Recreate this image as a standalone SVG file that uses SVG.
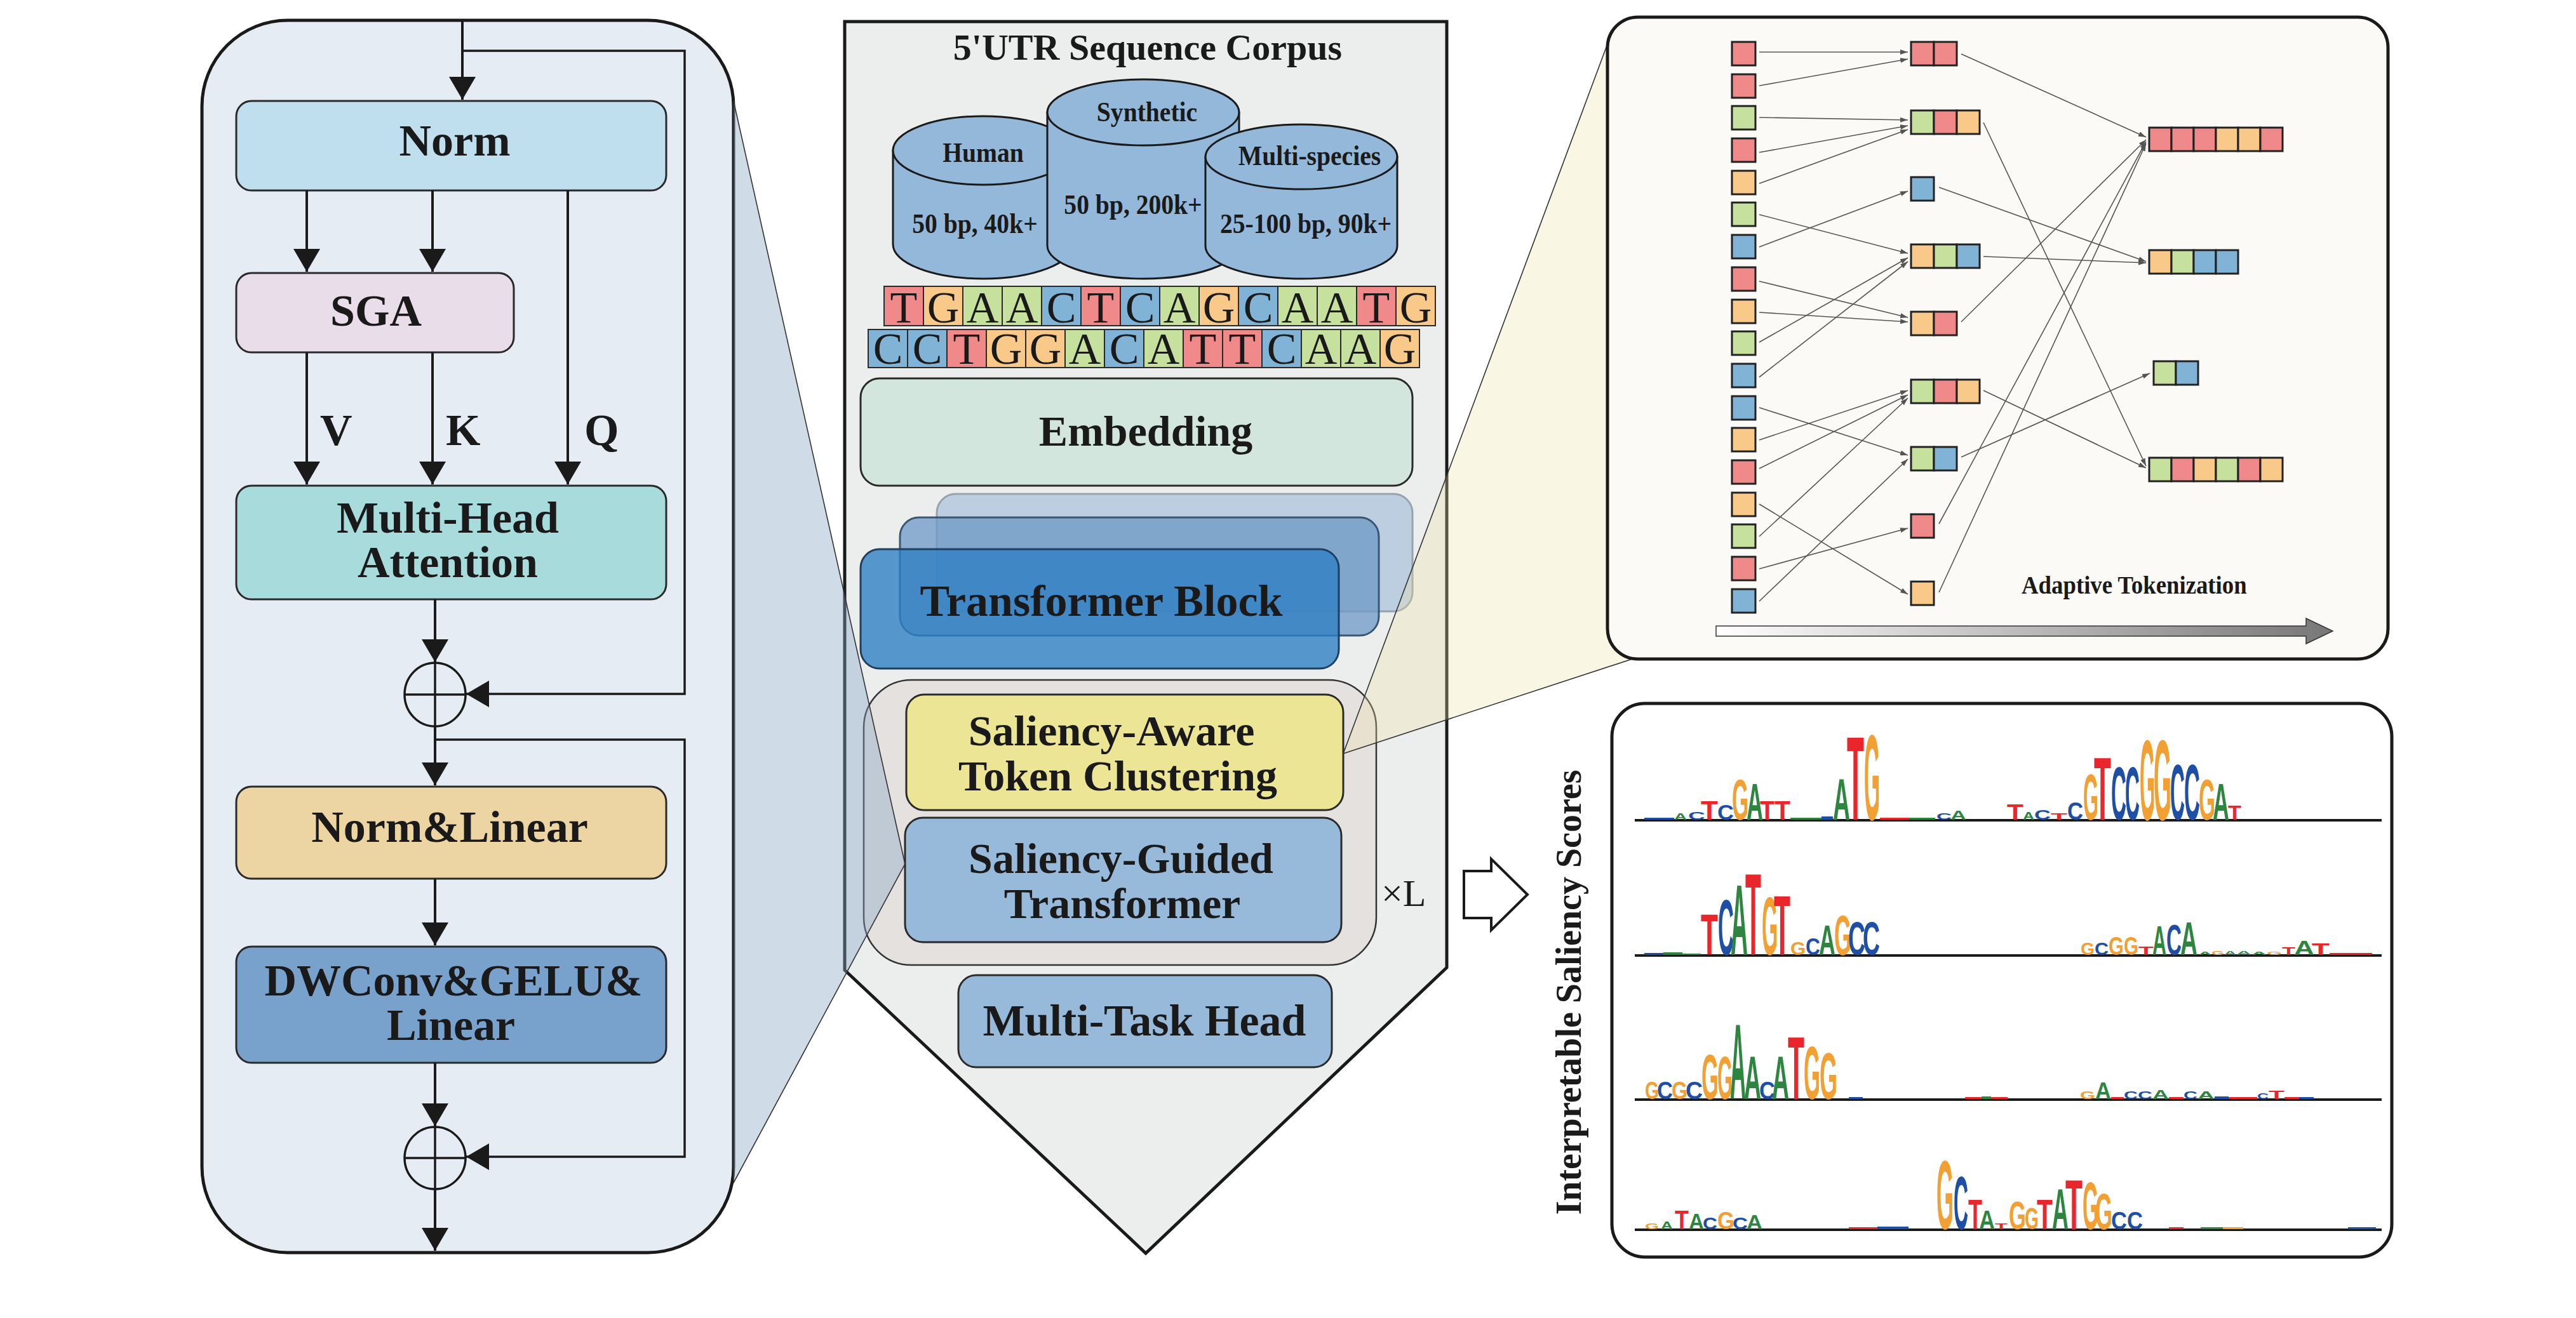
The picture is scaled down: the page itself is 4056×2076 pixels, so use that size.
<svg xmlns="http://www.w3.org/2000/svg" width="4056" height="2076" viewBox="0 0 4056 2076">
<style>
.sf{font-family:"Liberation Serif","Times New Roman",serif;font-weight:bold;fill:#1a1a1a}
.sr{font-family:"Liberation Serif","Times New Roman",serif;fill:#1a1a1a}
.t70{font-size:70px;text-anchor:middle}
.box{stroke:#2a2a2a;stroke-width:3}
.ln{fill:none;stroke:#1a1a1a;stroke-width:4}
.sk{fill:none;stroke:#1a1a1a;stroke-width:3.5}
.cyl{fill:#93b8d9;stroke:#1a1a1a;stroke-width:3}
.ct{font-size:44px;text-anchor:middle}
.cell{stroke:#2a2a2a;stroke-width:2}
.dna{font-family:"Liberation Serif","Times New Roman",serif;font-size:70px;text-anchor:middle;fill:#1a1a1a}
.tk{stroke:#222;stroke-width:3}
.R{fill:#f08a8a}.Gn{fill:#c6e09e}.O{fill:#f9c98a}.B{fill:#80b3d6}
.ta{fill:none;stroke:#555;stroke-width:1.6}
.L{font-family:"Liberation Sans",Arial,sans-serif;font-weight:bold;font-size:100px;text-anchor:middle}
.la{fill:#2e8540}.lc{fill:#1f4fa5}.lg{fill:#f2a033}.lt{fill:#e8262b}
.base{stroke:#1a1a1a;stroke-width:4}
</style>
<defs>
<marker id="arr" viewBox="0 0 36 42" refX="36" refY="21" markerWidth="36" markerHeight="42" markerUnits="userSpaceOnUse" orient="auto"><path d="M0,0 L36,21 L0,42 z" fill="#1a1a1a"/></marker>
<marker id="sa" viewBox="0 0 12 8" refX="12" refY="4" markerWidth="12" markerHeight="8" markerUnits="userSpaceOnUse" orient="auto"><path d="M0,0 L12,4 L0,8 z" fill="#555"/></marker>
<linearGradient id="gr" x1="0" x2="1" y1="0" y2="0"><stop offset="0" stop-color="#ffffff"/><stop offset="1" stop-color="#777777"/></linearGradient>
</defs>
<rect width="4056" height="2076" fill="#ffffff"/>

<!-- LEFT PANEL -->
<g id="left-panel">
<rect x="318" y="32" width="837" height="1941" rx="135" ry="135" fill="#e6ecf4" stroke="#1a1a1a" stroke-width="5"/>
</g>
<g id="norm"><rect class="box" x="372" y="159" width="677" height="141" rx="24" fill="#bfdfee"/><text class="sf t70" x="716" y="245">Norm</text></g>
<g id="sga"><rect class="box" x="372" y="430" width="437" height="125" rx="24" fill="#e8dde9"/><text class="sf t70" x="592" y="513">SGA</text></g>
<g id="mha"><rect class="box" x="372" y="765" width="677" height="179" rx="24" fill="#a8dbdc"/><text class="sf t70" x="705" y="839">Multi-Head</text><text class="sf t70" x="705" y="909">Attention</text></g>
<g id="normlinear"><rect class="box" x="372" y="1239" width="677" height="145" rx="24" fill="#ecd5a2"/><text class="sf t70" x="708" y="1326">Norm&amp;Linear</text></g>
<g id="dwconv"><rect class="box" x="372" y="1491" width="677" height="183" rx="24" fill="#78a2cc"/><text class="sf t70" x="714" y="1568">DWConv&amp;GELU&amp;</text><text class="sf t70" x="710" y="1638">Linear</text></g>
<g id="add1"><ellipse cx="685" cy="1094" rx="48" ry="50" fill="none" stroke="#1a1a1a" stroke-width="3.5"/><path d="M637,1094 H733 M685,1044 V1144" stroke="#1a1a1a" stroke-width="3.5"/></g>
<g id="add2"><ellipse cx="685" cy="1824" rx="48" ry="49" fill="none" stroke="#1a1a1a" stroke-width="3.5"/><path d="M637,1824 H733 M685,1775 V1873" stroke="#1a1a1a" stroke-width="3.5"/></g>
<g id="left-connectors">
<path class="ln" d="M728,34 V157" marker-end="url(#arr)"/>
<path class="sk" d="M728,80 H1078 V1093 H734" marker-end="url(#arr)"/>
<path class="ln" d="M483,300 V428" marker-end="url(#arr)"/>
<path class="ln" d="M681,300 V428" marker-end="url(#arr)"/>
<path class="ln" d="M894,300 V763" marker-end="url(#arr)"/>
<path class="ln" d="M483,555 V763" marker-end="url(#arr)"/>
<path class="ln" d="M681,555 V763" marker-end="url(#arr)"/>
<path class="ln" d="M685,944 V1043" marker-end="url(#arr)"/>
<path class="ln" d="M685,1144 V1237" marker-end="url(#arr)"/>
<path class="sk" d="M685,1165 H1078 V1822 H734" marker-end="url(#arr)"/>
<path class="ln" d="M685,1384 V1489" marker-end="url(#arr)"/>
<path class="ln" d="M685,1674 V1774" marker-end="url(#arr)"/>
<path class="ln" d="M685,1873 V1970" marker-end="url(#arr)"/>
<text class="sf" font-size="70" x="504" y="701">V</text>
<text class="sf" font-size="70" x="702" y="701">K</text>
<text class="sf" font-size="70" x="920" y="701">Q</text>
</g>

<!-- MIDDLE PANEL -->
<g id="middle-panel">
<path d="M1330,34 H2278 V1524 L1804,1974 L1330,1528 Z" fill="#eceeee" stroke="#1a1a1a" stroke-width="5" stroke-linejoin="miter"/>
<text class="sf" font-size="58" text-anchor="middle" x="1807" y="94">5'UTR Sequence Corpus</text>
</g>
<g id="cyl-human">
<path class="cyl" d="M1406,237 V385 A142,54 0 0 0 1690,385 V237 Z"/>
<ellipse class="cyl" cx="1548" cy="237" rx="142" ry="54"/>
<text class="sf ct" transform="translate(1548,255) scale(0.9,1)">Human</text><text class="sf ct" transform="translate(1535,367) scale(0.9,1)">50 bp, 40k+</text>
</g>
<g id="cyl-synthetic">
<path class="cyl" d="M1649,177 V387 A151,52 0 0 0 1951,387 V177 Z"/>
<ellipse class="cyl" cx="1800" cy="177" rx="151" ry="52"/>
<text class="sf ct" transform="translate(1806,191) scale(0.9,1)">Synthetic</text><text class="sf ct" transform="translate(1784,337) scale(0.9,1)">50 bp, 200k+</text>
</g>
<g id="cyl-multispecies">
<path class="cyl" d="M1898,247 V388 A151,51 0 0 0 2200,388 V247 Z"/>
<ellipse class="cyl" cx="2049" cy="247" rx="151" ry="51"/>
<text class="sf ct" transform="translate(2062,260) scale(0.9,1)">Multi-species</text><text class="sf ct" transform="translate(2056,367) scale(0.9,1)">25-100 bp, 90k+</text>
</g>
<g id="dna-row1">
<rect class="cell R" x="1392" y="451" width="62" height="62"/><rect class="cell O" x="1454" y="451" width="62" height="62"/><rect class="cell Gn" x="1516" y="451" width="62" height="62"/><rect class="cell Gn" x="1578" y="451" width="62" height="62"/><rect class="cell B" x="1640" y="451" width="62" height="62"/><rect class="cell R" x="1702" y="451" width="62" height="62"/><rect class="cell B" x="1764" y="451" width="62" height="62"/><rect class="cell Gn" x="1826" y="451" width="62" height="62"/><rect class="cell O" x="1888" y="451" width="62" height="62"/><rect class="cell B" x="1950" y="451" width="62" height="62"/><rect class="cell Gn" x="2012" y="451" width="62" height="62"/><rect class="cell Gn" x="2074" y="451" width="62" height="62"/><rect class="cell R" x="2136" y="451" width="62" height="62"/><rect class="cell O" x="2198" y="451" width="62" height="62"/>
<text class="dna" x="1423" y="508">T</text><text class="dna" x="1485" y="508">G</text><text class="dna" x="1547" y="508">A</text><text class="dna" x="1609" y="508">A</text><text class="dna" x="1671" y="508">C</text><text class="dna" x="1733" y="508">T</text><text class="dna" x="1795" y="508">C</text><text class="dna" x="1857" y="508">A</text><text class="dna" x="1919" y="508">G</text><text class="dna" x="1981" y="508">C</text><text class="dna" x="2043" y="508">A</text><text class="dna" x="2105" y="508">A</text><text class="dna" x="2167" y="508">T</text><text class="dna" x="2229" y="508">G</text>
</g>
<g id="dna-row2">
<rect class="cell B" x="1367" y="519" width="62" height="60"/><rect class="cell B" x="1429" y="519" width="62" height="60"/><rect class="cell R" x="1491" y="519" width="62" height="60"/><rect class="cell O" x="1553" y="519" width="62" height="60"/><rect class="cell O" x="1615" y="519" width="62" height="60"/><rect class="cell Gn" x="1677" y="519" width="62" height="60"/><rect class="cell B" x="1739" y="519" width="62" height="60"/><rect class="cell Gn" x="1801" y="519" width="62" height="60"/><rect class="cell R" x="1863" y="519" width="62" height="60"/><rect class="cell R" x="1925" y="519" width="62" height="60"/><rect class="cell B" x="1987" y="519" width="62" height="60"/><rect class="cell Gn" x="2049" y="519" width="62" height="60"/><rect class="cell Gn" x="2111" y="519" width="62" height="60"/><rect class="cell O" x="2173" y="519" width="62" height="60"/>
<text class="dna" x="1398" y="573">C</text><text class="dna" x="1460" y="573">C</text><text class="dna" x="1522" y="573">T</text><text class="dna" x="1584" y="573">G</text><text class="dna" x="1646" y="573">G</text><text class="dna" x="1708" y="573">A</text><text class="dna" x="1770" y="573">C</text><text class="dna" x="1832" y="573">A</text><text class="dna" x="1894" y="573">T</text><text class="dna" x="1956" y="573">T</text><text class="dna" x="2018" y="573">C</text><text class="dna" x="2080" y="573">A</text><text class="dna" x="2142" y="573">A</text><text class="dna" x="2204" y="573">G</text>
</g>
<g id="embedding"><rect class="box" x="1355" y="596" width="869" height="169" rx="30" fill="#d3e6de"/><text class="sf" font-size="68" text-anchor="middle" x="1804" y="702">Embedding</text></g>
<g id="transformer-block">
<rect x="1475" y="778" width="749" height="185" rx="30" fill="#b7cbdf" stroke="#8d9aa6" stroke-width="3" opacity="0.9"/>
<rect x="1417" y="815" width="754" height="186" rx="30" fill="#6d98c5" fill-opacity="0.75" stroke="#3a5673" stroke-width="3"/>
<rect x="1355" y="865" width="753" height="188" rx="30" fill="#2f80c3" fill-opacity="0.8" stroke="#1f3f60" stroke-width="3"/>
<text class="sf t70" x="1734" y="970">Transformer Block</text>
</g>
<g id="repeat-block">
<rect x="1360" y="1071" width="807" height="449" rx="75" fill="#e5e1de" stroke="#333" stroke-width="2.5"/>
<text class="sr" font-size="60" x="2175" y="1427">×L</text>
</g>
<g id="satc"><rect class="box" x="1427" y="1094" width="688" height="182" rx="28" fill="#ece595"/><text class="sf" font-size="68" text-anchor="middle" x="1750" y="1174">Saliency-Aware</text><text class="sf" font-size="68" text-anchor="middle" x="1760" y="1245">Token Clustering</text></g>
<g id="sgt"><rect class="box" x="1425" y="1288" width="687" height="196" rx="28" fill="#97badb"/><text class="sf" font-size="68" text-anchor="middle" x="1765" y="1375">Saliency-Guided</text><text class="sf" font-size="68" text-anchor="middle" x="1767" y="1446">Transformer</text></g>
<g id="mth"><rect class="box" x="1509" y="1536" width="588" height="145" rx="28" fill="#97badb"/><text class="sf t70" x="1802" y="1631">Multi-Task Head</text></g>

<!-- ZOOM OVERLAYS -->
<g id="zoom-overlays">
<path d="M1155,159 L1425,1361 L1155,1863 Z" fill="#87a7c5" fill-opacity="0.4"/>
<path d="M1155,159 L1425,1361 L1155,1863" fill="none" stroke="#333" stroke-width="1.6"/>
<path d="M2530,72 L2115,1187 L2573,1037 Z" fill="#eee1a5" fill-opacity="0.3"/>
<path d="M2530,72 L2115,1187 L2573,1037" fill="none" stroke="#333" stroke-width="1.6"/>
</g>

<!-- TOKENIZATION PANEL -->
<g id="tokenization-panel">
<rect x="2531" y="27" width="1229" height="1011" rx="48" fill="#fbfaf6" stroke="#1a1a1a" stroke-width="5"/>
<text class="sf" font-size="40" transform="translate(3183,935) scale(0.92,1)">Adaptive Tokenization</text>
<path d="M2702,986 H3631 V974 L3673,994 L3631,1014 V1002 H2702 Z" fill="url(#gr)" stroke="#333" stroke-width="1.5"/>
</g>
<g id="tokens-col1">
<rect class="tk R" x="2727" y="66" width="37" height="37"/><rect class="tk R" x="2727" y="117" width="37" height="37"/><rect class="tk Gn" x="2727" y="167" width="37" height="37"/><rect class="tk R" x="2727" y="218" width="37" height="37"/><rect class="tk O" x="2727" y="269" width="37" height="37"/><rect class="tk Gn" x="2727" y="319" width="37" height="37"/><rect class="tk B" x="2727" y="370" width="37" height="37"/><rect class="tk R" x="2727" y="421" width="37" height="37"/><rect class="tk O" x="2727" y="472" width="37" height="37"/><rect class="tk Gn" x="2727" y="522" width="37" height="37"/><rect class="tk B" x="2727" y="573" width="37" height="37"/><rect class="tk B" x="2727" y="624" width="37" height="37"/><rect class="tk O" x="2727" y="674" width="37" height="37"/><rect class="tk R" x="2727" y="725" width="37" height="37"/><rect class="tk O" x="2727" y="776" width="37" height="37"/><rect class="tk Gn" x="2727" y="826" width="37" height="37"/><rect class="tk R" x="2727" y="877" width="37" height="37"/><rect class="tk B" x="2727" y="928" width="37" height="37"/>
</g>
<g id="tokens-col2">
<rect class="tk R" x="3009" y="66" width="36" height="37"/><rect class="tk R" x="3045" y="66" width="36" height="37"/>
<rect class="tk Gn" x="3009" y="174" width="36" height="37"/><rect class="tk R" x="3045" y="174" width="36" height="37"/><rect class="tk O" x="3081" y="174" width="36" height="37"/>
<rect class="tk B" x="3009" y="279" width="36" height="37"/>
<rect class="tk O" x="3009" y="385" width="36" height="37"/><rect class="tk Gn" x="3045" y="385" width="36" height="37"/><rect class="tk B" x="3081" y="385" width="36" height="37"/>
<rect class="tk O" x="3009" y="491" width="36" height="37"/><rect class="tk R" x="3045" y="491" width="36" height="37"/>
<rect class="tk Gn" x="3009" y="598" width="36" height="37"/><rect class="tk R" x="3045" y="598" width="36" height="37"/><rect class="tk O" x="3081" y="598" width="36" height="37"/>
<rect class="tk Gn" x="3009" y="704" width="36" height="37"/><rect class="tk B" x="3045" y="704" width="36" height="37"/>
<rect class="tk R" x="3009" y="810" width="36" height="37"/>
<rect class="tk O" x="3009" y="916" width="36" height="37"/>
</g>
<g id="tokens-col3">
<rect class="tk R" x="3384" y="201" width="35" height="37"/><rect class="tk R" x="3419" y="201" width="35" height="37"/><rect class="tk R" x="3454" y="201" width="35" height="37"/><rect class="tk O" x="3489" y="201" width="35" height="37"/><rect class="tk O" x="3524" y="201" width="35" height="37"/><rect class="tk R" x="3559" y="201" width="35" height="37"/>
<rect class="tk O" x="3384" y="394" width="35" height="37"/><rect class="tk Gn" x="3419" y="394" width="35" height="37"/><rect class="tk B" x="3454" y="394" width="35" height="37"/><rect class="tk B" x="3489" y="394" width="35" height="37"/>
<rect class="tk Gn" x="3391" y="569" width="35" height="37"/><rect class="tk B" x="3426" y="569" width="35" height="37"/>
<rect class="tk Gn" x="3384" y="721" width="35" height="37"/><rect class="tk R" x="3419" y="721" width="35" height="37"/><rect class="tk O" x="3454" y="721" width="35" height="37"/><rect class="tk Gn" x="3489" y="721" width="35" height="37"/><rect class="tk R" x="3524" y="721" width="35" height="37"/><rect class="tk O" x="3559" y="721" width="35" height="37"/>
</g>
<g id="token-connectors">
<path class="ta" d="M2770,82 L3004,82" marker-end="url(#sa)"/>
<path class="ta" d="M2770,135 L3004,93" marker-end="url(#sa)"/>
<path class="ta" d="M2770,185 L3004,189" marker-end="url(#sa)"/>
<path class="ta" d="M2770,240 L3004,198" marker-end="url(#sa)"/>
<path class="ta" d="M2770,289 L3004,204" marker-end="url(#sa)"/>
<path class="ta" d="M2770,338 L3004,399" marker-end="url(#sa)"/>
<path class="ta" d="M2770,389 L3004,301" marker-end="url(#sa)"/>
<path class="ta" d="M2770,443 L3004,500" marker-end="url(#sa)"/>
<path class="ta" d="M2770,492 L3004,507" marker-end="url(#sa)"/>
<path class="ta" d="M2770,539 L3004,406" marker-end="url(#sa)"/>
<path class="ta" d="M2770,594 L3004,412" marker-end="url(#sa)"/>
<path class="ta" d="M2770,642 L3004,717" marker-end="url(#sa)"/>
<path class="ta" d="M2770,693 L3004,615" marker-end="url(#sa)"/>
<path class="ta" d="M2770,738 L3004,622" marker-end="url(#sa)"/>
<path class="ta" d="M2770,794 L3004,936" marker-end="url(#sa)"/>
<path class="ta" d="M2770,845 L3004,627" marker-end="url(#sa)"/>
<path class="ta" d="M2770,896 L3004,832" marker-end="url(#sa)"/>
<path class="ta" d="M2770,947 L3004,723" marker-end="url(#sa)"/>
<path class="ta" d="M3088,85 L3379,216" marker-end="url(#sa)"/>
<path class="ta" d="M3123,193 L3379,734" marker-end="url(#sa)"/>
<path class="ta" d="M3053,295 L3379,412" marker-end="url(#sa)"/>
<path class="ta" d="M3123,404 L3379,414" marker-end="url(#sa)"/>
<path class="ta" d="M3088,507 L3379,220" marker-end="url(#sa)"/>
<path class="ta" d="M3123,615 L3379,737" marker-end="url(#sa)"/>
<path class="ta" d="M3088,720 L3385,588" marker-end="url(#sa)"/>
<path class="ta" d="M3053,825 L3379,223" marker-end="url(#sa)"/>
<path class="ta" d="M3053,933 L3379,226" marker-end="url(#sa)"/>
</g>

<!-- BLOCK ARROW -->
<g id="block-arrow"><path d="M2305,1372 H2348 V1353 L2405,1409 L2348,1465 V1446 H2305 Z" fill="#fff" stroke="#1a1a1a" stroke-width="4"/></g>

<!-- SALIENCY PANEL -->
<g id="saliency-panel">
<rect x="2538" y="1108" width="1228" height="872" rx="52" fill="#fff" stroke="#1a1a1a" stroke-width="5"/>
<text class="sf" font-size="56" text-anchor="middle" transform="translate(2489,1563) rotate(-90)">Interpretable Saliency Scores</text>
<path class="base" d="M2574,1292 H3750 M2574,1505 H3750 M2574,1732 H3750 M2574,1937 H3750"/>
</g>
<g id="logo-row1">
<rect class="lc" x="2589" y="1288" width="47" height="3"/><rect class="la" x="2819" y="1288" width="49" height="3"/><rect class="lc" x="2868" y="1286" width="18" height="5"/><rect class="lt" x="2960" y="1288" width="46" height="3"/><rect class="la" x="3006" y="1288" width="41" height="3"/>
<text class="L la" transform="translate(2646,1291) scale(.277,.139)">A</text>
<text class="L lc" transform="translate(2671.5,1291) scale(.374,.167)">C</text>
<text class="L lt" transform="translate(2691.5,1291) scale(.442,.417)">T</text>
<text class="L lc" transform="translate(2717,1291) scale(.36,.333)">C</text>
<text class="L lg" transform="translate(2740,1291) scale(.334,.903)">G</text>
<text class="L la" transform="translate(2763,1291) scale(.36,.819)">A</text>
<text class="L lt" transform="translate(2782.5,1291) scale(.377,.431)">T</text>
<text class="L lt" transform="translate(2806.5,1291) scale(.409,.431)">T</text>
<text class="L la" transform="translate(2899.5,1291) scale(.374,.931)">A</text>
<text class="L lt" transform="translate(2921.5,1291) scale(.442,1.875)">T</text>
<text class="L lg" transform="translate(2947.5,1291) scale(.322,1.903)">G</text>
<text class="L lc" transform="translate(3061,1291) scale(.332,.139)">C</text>
<text class="L la" transform="translate(3083.5,1291) scale(.346,.208)">A</text>
<text class="L lt" transform="translate(3173,1291) scale(.425,.347)">T</text>
<text class="L la" transform="translate(3194,1291) scale(.25,.167)">A</text>
<text class="L lc" transform="translate(3216,1291) scale(.36,.222)">C</text>
<text class="L lt" transform="translate(3242,1291) scale(.425,.153)">T</text>
<text class="L lc" transform="translate(3267.5,1291) scale(.346,.389)">C</text>
<text class="L lg" transform="translate(3292,1291) scale(.309,1.028)">G</text>
<text class="L lt" transform="translate(3310.5,1291) scale(.442,1.403)">T</text>
<text class="L lc" transform="translate(3336,1291) scale(.332,1.194)">C</text>
<text class="L lc" transform="translate(3357.5,1291) scale(.318,1.194)">C</text>
<text class="L lg" transform="translate(3381,1291) scale(.309,1.792)">G</text>
<text class="L lg" transform="translate(3405,1291) scale(.36,1.792)">G</text>
<text class="L lc" transform="translate(3428.5,1291) scale(.318,1.236)">C</text>
<text class="L lc" transform="translate(3451.5,1291) scale(.346,1.236)">C</text>
<text class="L lg" transform="translate(3475,1291) scale(.334,.917)">G</text>
<text class="L la" transform="translate(3497,1291) scale(.36,.819)">A</text>
<text class="L lt" transform="translate(3518.5,1291) scale(.344,.306)">T</text>
</g>
<g id="logo-row2">
<rect class="lc" x="2589" y="1501" width="30" height="3"/><rect class="la" x="2619" y="1500" width="30" height="4"/><rect class="la" x="2649" y="1502" width="29" height="2"/><rect class="lt" x="3668" y="1501" width="67" height="3"/>
<text class="L lt" transform="translate(2691.5,1504) scale(.442,.917)">T</text>
<text class="L lc" transform="translate(2717.5,1504) scale(.346,1.236)">C</text>
<text class="L la" transform="translate(2738.5,1504) scale(.374,1.569)">A</text>
<text class="L lt" transform="translate(2760.5,1504) scale(.409,1.833)">T</text>
<text class="L lg" transform="translate(2786.5,1504) scale(.322,1.292)">G</text>
<text class="L lt" transform="translate(2806,1504) scale(.425,1.333)">T</text>
<text class="L lg" transform="translate(2831,1504) scale(.309,.292)">G</text>
<text class="L lc" transform="translate(2854.5,1504) scale(.318,.361)">C</text>
<text class="L la" transform="translate(2877,1504) scale(.36,.667)">A</text>
<text class="L lg" transform="translate(2901.5,1504) scale(.347,.889)">G</text>
<text class="L lc" transform="translate(2923.5,1504) scale(.374,.75)">C</text>
<text class="L lc" transform="translate(2946.5,1504) scale(.374,.75)">C</text>
<text class="L lg" transform="translate(3287,1504) scale(.283,.278)">G</text>
<text class="L lc" transform="translate(3309,1504) scale(.305,.278)">C</text>
<text class="L lg" transform="translate(3332,1504) scale(.309,.403)">G</text>
<text class="L lg" transform="translate(3355.5,1504) scale(.295,.403)">G</text>
<text class="L lt" transform="translate(3379,1504) scale(.393,.181)">T</text>
<text class="L la" transform="translate(3400,1504) scale(.305,.639)">A</text>
<text class="L lc" transform="translate(3423,1504) scale(.332,.694)">C</text>
<text class="L la" transform="translate(3446.5,1504) scale(.374,.736)">A</text>
<text class="L la" transform="translate(3472,1504) scale(.277,.069)">A</text>
<text class="L lg" transform="translate(3492,1504) scale(.257,.097)">G</text>
<text class="L la" transform="translate(3511.5,1504) scale(.263,.097)">A</text>
<text class="L la" transform="translate(3533,1504) scale(.332,.097)">A</text>
<text class="L la" transform="translate(3557,1504) scale(.332,.069)">A</text>
<text class="L lg" transform="translate(3581,1504) scale(.309,.069)">G</text>
<text class="L lt" transform="translate(3603.5,1504) scale(.344,.167)">T</text>
<text class="L la" transform="translate(3628,1504) scale(.443,.319)">A</text>
<text class="L lt" transform="translate(3654,1504) scale(.458,.25)">T</text>
</g>
<g id="logo-row3">
<rect class="lc" x="2911" y="1728" width="22" height="3"/><rect class="lt" x="3094" y="1728" width="26" height="3"/><rect class="la" x="3120" y="1727" width="15" height="4"/><rect class="lt" x="3135" y="1728" width="26" height="3"/><rect class="lt" x="3324" y="1728" width="20" height="3"/><rect class="lt" x="3415" y="1728" width="23" height="3"/><rect class="lc" x="3487" y="1727" width="22" height="4"/><rect class="lt" x="3509" y="1728" width="45" height="3"/><rect class="lt" x="3597" y="1728" width="23" height="3"/><rect class="lc" x="3620" y="1728" width="23" height="3"/>
<text class="L lg" transform="translate(2601,1731) scale(.283,.389)">G</text>
<text class="L lc" transform="translate(2621.5,1731) scale(.346,.389)">C</text>
<text class="L lg" transform="translate(2644.5,1731) scale(.322,.389)">G</text>
<text class="L lc" transform="translate(2667.5,1731) scale(.374,.389)">C</text>
<text class="L lg" transform="translate(2692.5,1731) scale(.347,1)">G</text>
<text class="L lg" transform="translate(2716,1731) scale(.309,.958)">G</text>
<text class="L la" transform="translate(2736.5,1731) scale(.346,1.681)">A</text>
<text class="L la" transform="translate(2759.5,1731) scale(.374,.958)">A</text>
<text class="L lc" transform="translate(2782.5,1731) scale(.346,.389)">C</text>
<text class="L la" transform="translate(2803.5,1731) scale(.374,.958)">A</text>
<text class="L lt" transform="translate(2828,1731) scale(.425,1.403)">T</text>
<text class="L lg" transform="translate(2853,1731) scale(.334,1.194)">G</text>
<text class="L lg" transform="translate(2879,1731) scale(.36,1.042)">G</text>
<text class="L lg" transform="translate(3287,1731) scale(.309,.167)">G</text>
<text class="L la" transform="translate(3311.5,1731) scale(.346,.361)">A</text>
<text class="L lc" transform="translate(3355,1731) scale(.305,.167)">C</text>
<text class="L lc" transform="translate(3377.5,1731) scale(.318,.167)">C</text>
<text class="L la" transform="translate(3402,1731) scale(.36,.208)">A</text>
<text class="L lc" transform="translate(3449,1731) scale(.305,.167)">C</text>
<text class="L la" transform="translate(3473.5,1731) scale(.374,.167)">A</text>
<text class="L lc" transform="translate(3563,1731) scale(.249,.125)">C</text>
<text class="L lt" transform="translate(3584.5,1731) scale(.409,.181)">T</text>
</g>
<g id="logo-row4">
<rect class="lt" x="2911" y="1933" width="45" height="3"/><rect class="lc" x="2956" y="1932" width="49" height="4"/><rect class="lt" x="3415" y="1933" width="23" height="3"/><rect class="la" x="3465" y="1933" width="35" height="3"/><rect class="lg" x="3500" y="1933" width="32" height="3"/><rect class="lc" x="3697" y="1933" width="44" height="3"/>
<text class="L lg" transform="translate(2601,1936) scale(.283,.125)">G</text>
<text class="L la" transform="translate(2624.5,1936) scale(.263,.167)">A</text>
<text class="L lt" transform="translate(2648,1936) scale(.36,.431)">T</text>
<text class="L la" transform="translate(2671,1936) scale(.332,.347)">A</text>
<text class="L lc" transform="translate(2692.5,1936) scale(.318,.264)">C</text>
<text class="L lg" transform="translate(2717.5,1936) scale(.347,.389)">G</text>
<text class="L lc" transform="translate(2740,1936) scale(.332,.25)">C</text>
<text class="L la" transform="translate(2762.5,1936) scale(.346,.306)">A</text>
<text class="L lg" transform="translate(3062.5,1936) scale(.347,1.542)">G</text>
<text class="L lc" transform="translate(3087.5,1936) scale(.318,1.194)">C</text>
<text class="L lt" transform="translate(3110,1936) scale(.36,.667)">T</text>
<text class="L la" transform="translate(3128.5,1936) scale(.346,.431)">A</text>
<text class="L lt" transform="translate(3151,1936) scale(.327,.125)">T</text>
<text class="L lg" transform="translate(3176.5,1936) scale(.347,.625)">G</text>
<text class="L lg" transform="translate(3199,1936) scale(.283,.486)">G</text>
<text class="L lt" transform="translate(3219.5,1936) scale(.409,.667)">T</text>
<text class="L la" transform="translate(3244,1936) scale(.36,.917)">A</text>
<text class="L lt" transform="translate(3265.5,1936) scale(.442,1.111)">T</text>
<text class="L lg" transform="translate(3291.5,1936) scale(.322,1.056)">G</text>
<text class="L lg" transform="translate(3312.5,1936) scale(.347,.792)">G</text>
<text class="L lc" transform="translate(3336.5,1936) scale(.346,.389)">C</text>
<text class="L lc" transform="translate(3361.5,1936) scale(.346,.389)">C</text>
</g>
</svg>
